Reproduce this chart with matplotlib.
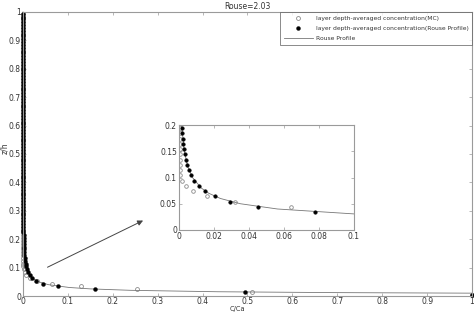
import matplotlib
matplotlib.use("Agg")
import matplotlib.pyplot as plt

# ---- data ----
z_layers = [0.004, 0.014, 0.024, 0.034, 0.044, 0.054, 0.064, 0.074, 0.084, 0.094,
            0.104, 0.114, 0.124, 0.134, 0.144, 0.154, 0.164, 0.174, 0.184, 0.194,
            0.204, 0.214, 0.224, 0.234, 0.244, 0.254, 0.264, 0.274, 0.284, 0.294,
            0.304, 0.314, 0.324, 0.334, 0.344, 0.354, 0.364, 0.374, 0.384, 0.394,
            0.404, 0.414, 0.424, 0.434, 0.444, 0.454, 0.464, 0.474, 0.484, 0.494,
            0.504, 0.514, 0.524, 0.534, 0.544, 0.554, 0.564, 0.574, 0.584, 0.594,
            0.604, 0.614, 0.624, 0.634, 0.644, 0.654, 0.664, 0.674, 0.684, 0.694,
            0.704, 0.714, 0.724, 0.734, 0.744, 0.754, 0.764, 0.774, 0.784, 0.794,
            0.804, 0.814, 0.824, 0.834, 0.844, 0.854, 0.864, 0.874, 0.884, 0.894,
            0.904, 0.914, 0.924, 0.934, 0.944, 0.954, 0.964, 0.974, 0.984, 0.994]

c_mc = [1.0, 0.509, 0.255, 0.129, 0.064, 0.032, 0.0158, 0.0078, 0.004, 0.0015,
        0.0008, 0.0007, 0.0006, 0.0006, 0.0005, 0.0005, 0.0005, 0.0004, 0.0004, 0.0004,
        0.0003, 0.0003, 0.0003, 0.0003, 0.0002, 0.0002, 0.0002, 0.0002, 0.0002, 0.0002,
        0.0001, 0.0001, 0.0001, 0.0001, 0.0001, 0.0001, 0.0001, 0.0001, 0.0001, 0.0001,
        0.0, 0.0, 0.0, 0.0, 0.0, 0.0, 0.0, 0.0, 0.0, 0.0,
        0.0, 0.0, 0.0, 0.0, 0.0, 0.0, 0.0, 0.0, 0.0, 0.0,
        0.0, 0.0, 0.0, 0.0, 0.0, 0.0, 0.0, 0.0, 0.0, 0.0,
        0.0, 0.0, 0.0, 0.0, 0.0, 0.0, 0.0, 0.0, 0.0, 0.0,
        0.0, 0.0, 0.0, 0.0, 0.0, 0.0, 0.0, 0.0, 0.0, 0.0,
        0.0, 0.0, 0.0, 0.0, 0.0, 0.0, 0.0, 0.0, 0.0, 0.0]

c_rouse_layers = [1.0, 0.495, 0.16, 0.078, 0.045, 0.029, 0.0205, 0.015, 0.0114, 0.0088,
                  0.007, 0.0057, 0.0047, 0.0039, 0.0033, 0.0028, 0.0024, 0.0021, 0.0018, 0.0016,
                  0.0014, 0.00125, 0.0011, 0.001, 0.0009, 0.0008, 0.0007, 0.00065, 0.0006, 0.00055,
                  0.0005, 0.00045, 0.0004, 0.00036, 0.00033, 0.0003, 0.00027, 0.00024, 0.00022, 0.0002,
                  0.00018, 0.00016, 0.00014, 0.00013, 0.00012, 0.00011, 0.0001, 0.00009, 0.00008, 0.00007,
                  0.00006, 0.00006, 0.00005, 0.00005, 0.00004, 0.00004, 0.00003, 0.00003, 0.00003, 0.00002,
                  0.00002, 0.00002, 0.00002, 0.00001, 0.00001, 0.00001, 0.00001, 0.00001, 0.00001, 0.00001,
                  0.0, 0.0, 0.0, 0.0, 0.0, 0.0, 0.0, 0.0, 0.0, 0.0,
                  0.0, 0.0, 0.0, 0.0, 0.0, 0.0, 0.0, 0.0, 0.0, 0.0,
                  0.0, 0.0, 0.0, 0.0, 0.0, 0.0, 0.0, 0.0, 0.0, 0.0]

z_profile = [0.01, 0.012, 0.015, 0.02, 0.025, 0.03, 0.04, 0.05, 0.06, 0.07,
             0.08, 0.1, 0.12, 0.15, 0.2, 0.3, 0.5, 0.7, 1.0]
c_profile = [1.0, 0.688, 0.434, 0.240, 0.151, 0.103, 0.0563, 0.0351, 0.0237, 0.017,
             0.0127, 0.0077, 0.0051, 0.0030, 0.0015, 0.0005, 0.0001, 0.00002, 0.0]

main_xticks = [0, 0.1, 0.2, 0.3, 0.4, 0.5, 0.6, 0.7, 0.8, 0.9, 1]
main_xlabels = ["0", "0.1", "0.2", "0.3", "0.4", "0.5", "0.6", "0.7", "0.8", "0.9", "1"]
main_yticks = [0, 0.1, 0.2, 0.3, 0.4, 0.5, 0.6, 0.7, 0.8, 0.9, 1]
main_ylabels = ["0", "0.1", "0.2", "0.3", "0.4", "0.5", "0.6", "0.7", "0.8", "0.9", "1"]
inset_xticks = [0, 0.02, 0.04, 0.06, 0.08, 0.1]
inset_xlabels = ["0", "0.02", "0.04", "0.06", "0.08", "0.1"]
inset_yticks = [0, 0.05, 0.1, 0.15, 0.2]
inset_ylabels = ["0", "0.05", "0.1", "0.15", "0.2"]

arrow_start = (0.049, 0.097)
arrow_end = (0.273, 0.27)

labels = ["layer depth-averaged concentration(MC)",
          "layer depth-averaged concentration(Rouse Profile)",
          "Rouse Profile"]

# ---- styling ----
FS = 5.5
LFS = 4.3
spine_col = "#9a9a9a"
text_col = "#333333"
mc_col = "#8a8a8a"
line_col = "#777777"

fig = plt.figure(figsize=(4.74, 3.13), dpi=100)
fig.patch.set_facecolor("white")


def style_axes(ax, xpad=1.5):
    for s in ax.spines.values():
        s.set_color(spine_col)
        s.set_linewidth(0.8)
    ax.tick_params(direction="in", length=2, width=0.5, colors=spine_col,
                   labelcolor=text_col, labelsize=FS, top=True, right=True, pad=1.5)
    ax.tick_params(axis="x", pad=xpad)


def draw(ax, ms, clip=True):
    l1, = ax.plot(c_mc, z_layers, linestyle="none", marker="o", markersize=ms,
                  markerfacecolor="none", markeredgecolor=mc_col, markeredgewidth=0.6,
                  clip_on=clip)
    l3, = ax.plot(c_profile, z_profile, color=line_col, linewidth=0.6, clip_on=clip)
    l2, = ax.plot(c_rouse_layers, z_layers, linestyle="none", marker="o", markersize=ms,
                  markerfacecolor="black", markeredgecolor="black", markeredgewidth=0.3,
                  clip_on=clip)
    return l1, l2, l3


ax = fig.add_axes([0.0485, 0.0543, 0.9473, 0.9074])
h1, h2, h3 = draw(ax, 2.8, clip=False)
ax.set_xlim(0, 1)
ax.set_ylim(0, 1)
ax.set_xticks(main_xticks)
ax.set_xticklabels(main_xlabels)
ax.set_yticks(main_yticks)
ax.set_yticklabels(main_ylabels)
style_axes(ax, xpad=0.8)
ax.set_title("Rouse=2.03", fontsize=FS, color=text_col, pad=2)
ax.set_xlabel("C/Ca", fontsize=4.8, color=text_col, labelpad=0)
ax.xaxis.set_label_coords(0.478, -0.034)
ax.set_ylabel("z/h", fontsize=FS, color=text_col, labelpad=0)
ax.yaxis.set_label_coords(-0.03, 0.52)

leg = ax.legend([h1, h2, h3], labels, loc="upper right", fontsize=LFS,
                frameon=True, fancybox=False, borderpad=0.6, labelspacing=0.85,
                handlelength=4.8, handletextpad=0.5, borderaxespad=0.0)
leg.get_frame().set_edgecolor("#555555")
leg.get_frame().set_linewidth(0.6)
for t in leg.get_texts():
    t.set_color(text_col)

ax.annotate("", xy=arrow_end, xytext=arrow_start,
            arrowprops=dict(arrowstyle="-|>", color="#444444", lw=0.7,
                            mutation_scale=8))

ins = fig.add_axes([0.3776, 0.2652, 0.3692, 0.3354])
draw(ins, 2.6)
ins.set_xlim(0, 0.1)
ins.set_ylim(0, 0.2)
ins.set_xticks(inset_xticks)
ins.set_xticklabels(inset_xlabels)
ins.set_yticks(inset_yticks)
ins.set_yticklabels(inset_ylabels)
style_axes(ins)

fig.savefig("out.png", dpi=100, facecolor="white")
